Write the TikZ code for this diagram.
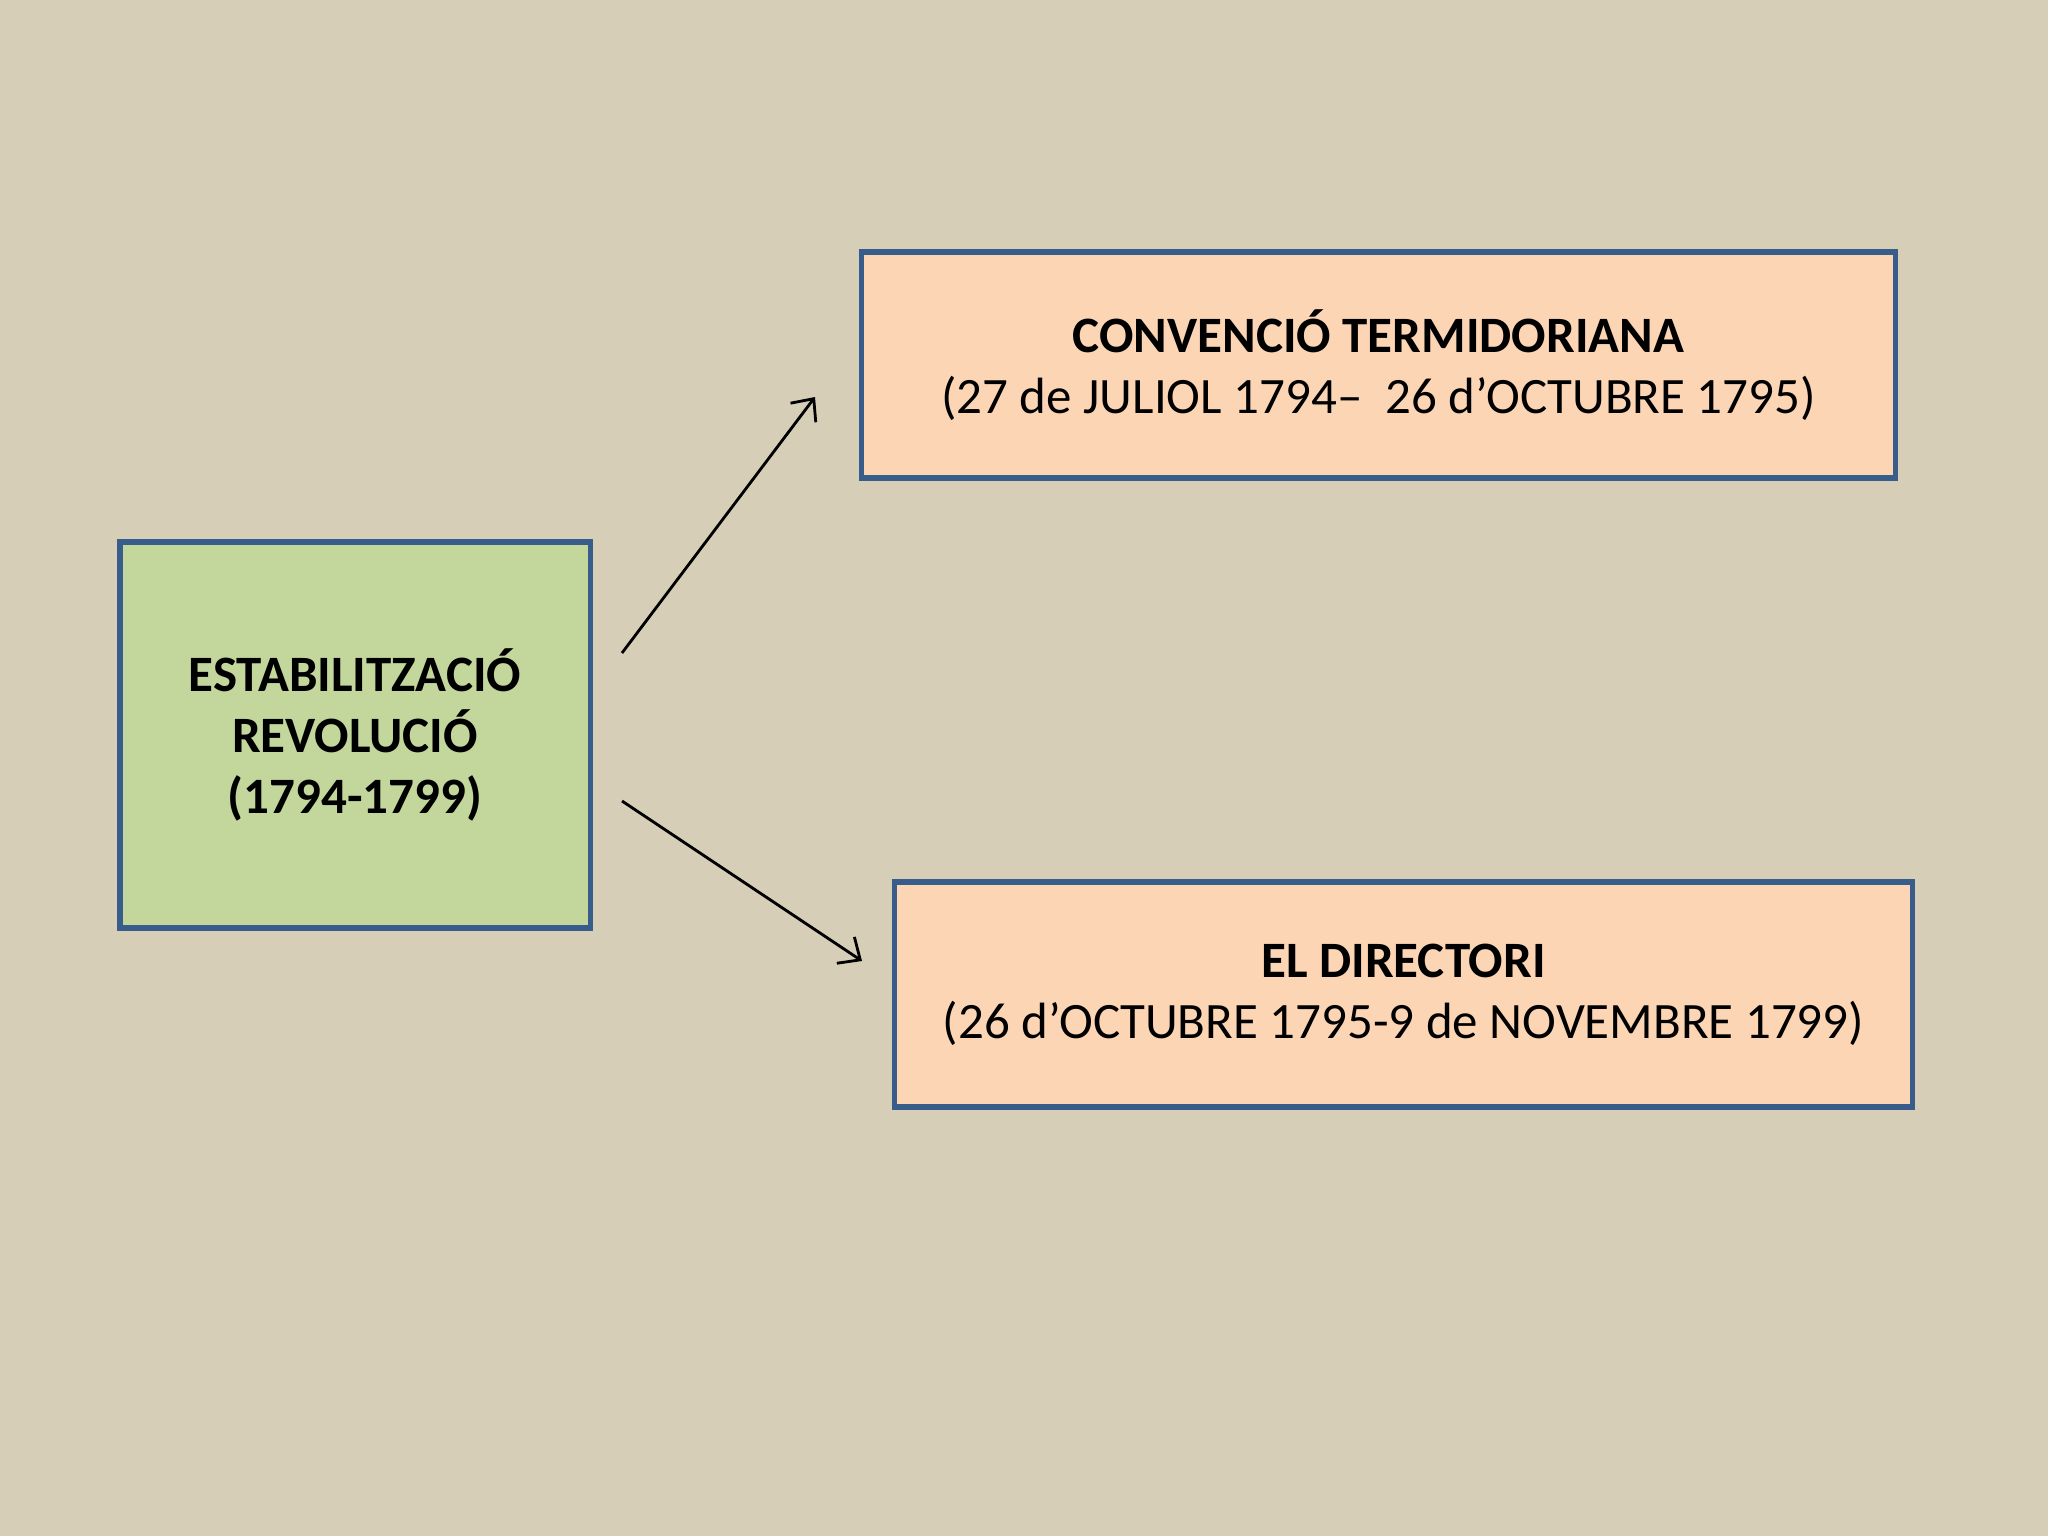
\documentclass[tikz,border=0pt]{standalone}
\usepackage{fontspec}
\setmainfont{Carlito}
\usetikzlibrary{arrows.meta}
\definecolor{linen}{RGB}{214,206,183}
\definecolor{frameblue}{RGB}{56,93,138}
\definecolor{olivefill}{RGB}{195,214,155}
\definecolor{peachfill}{RGB}{252,213,181}
\tikzset{
  period/.style={draw=frameblue,line width=1.5pt,fill=peachfill,align=center,
    font=\fontsize{14.5}{17.4}\selectfont},
  linkarrow/.style={line width=0.8pt,-{Straight Barb[length=5pt,width=9pt]}}
}

\begin{document}
\begin{tikzpicture}[x=0.01cm,y=-0.01cm]
  \fill [linen] (0,0) rectangle (2048,1536);
  \useasboundingbox (0,0) rectangle (2048,1536);
  \node [period,fill=olivefill,minimum width=4.7cm,minimum height=3.86cm] (estab) at (355,735)
    {\bfseries ESTABILITZACIÓ\\\bfseries REVOLUCIÓ\\\bfseries (1794-1799)};
  \node [period,minimum width=10.33cm,minimum height=2.26cm] (conv) at (1378.5,365)
    {\bfseries CONVENCIÓ TERMIDORIANA\\(27 de JULIOL 1794–\ \ 26 d’OCTUBRE 1795)};
  \node [period,minimum width=10.17cm,minimum height=2.25cm] (dir) at (1403.5,994.5)
    {\bfseries EL DIRECTORI\\(26 d’OCTUBRE 1795-9 de NOVEMBRE 1799)};
  \coordinate (up-from) at (622,653);
  \coordinate (up-to) at (815,397);
  \coordinate (down-from) at (622,801);
  \coordinate (down-to) at (862,961);
  \draw [linkarrow] (up-from) -- (up-to);
  \draw [linkarrow] (down-from) -- (down-to);
\end{tikzpicture}
\end{document}
